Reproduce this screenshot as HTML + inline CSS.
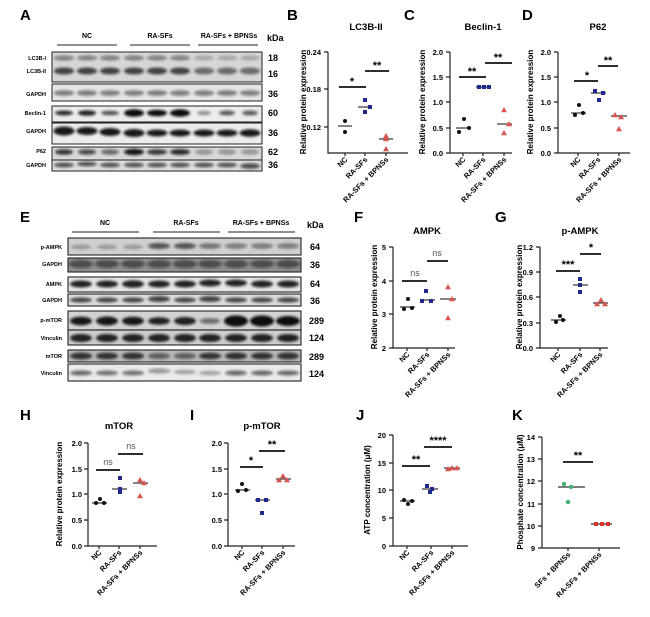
<!DOCTYPE html>
<html><head><meta charset="utf-8"><style>
body{margin:0;background:#fff}
svg{display:block;font-family:"Liberation Sans",sans-serif;font-weight:bold}
.L{font-size:15px}
.t{font-size:9.5px;text-anchor:middle}
.k{font-size:7.5px;text-anchor:end}
.y{font-size:8px;text-anchor:middle}
.x{font-size:7.5px;text-anchor:end}
.b{font-size:5.5px;text-anchor:end}
.h{font-size:7px;text-anchor:middle}
.kd{font-size:9px}
.ax{stroke:#222;stroke-width:1.2;fill:none}
.s{stroke:#111;stroke-width:1.8}
.m{stroke:#333;stroke-width:1.2}
.st{font-size:11px;text-anchor:middle}
.ns{font-size:9px;text-anchor:middle;fill:#555;font-weight:normal}
</style></head><body>
<svg width="650" height="617" viewBox="0 0 650 617">
<defs><filter id="bl"><feGaussianBlur stdDeviation="1.3"/></filter>
<polygon id="tri" points="0,-3 3,2.2 -3,2.2" fill="#d9534f"/></defs>

<text class="L" x="20" y="20">A</text>
<text class="L" x="287" y="20">B</text>
<text class="L" x="404" y="20">C</text>
<text class="L" x="522" y="20">D</text>
<text class="L" x="20" y="222">E</text>
<text class="L" x="354" y="222">F</text>
<text class="L" x="495" y="222">G</text>
<text class="L" x="20" y="420">H</text>
<text class="L" x="190" y="420">I</text>
<text class="L" x="356" y="420">J</text>
<text class="L" x="512" y="420">K</text>

<!-- ===== Blot A ===== -->
<text class="h" x="87" y="38">NC</text><text class="h" x="160" y="38">RA-SFs</text><text class="h" x="229" y="38">RA-SFs + BPNSs</text>
<g stroke="#222" stroke-width="1"><line x1="57" y1="45" x2="117" y2="45"/><line x1="130" y1="45" x2="190" y2="45"/><line x1="198" y1="45" x2="258" y2="45"/></g>
<g class="kd"><text x="267" y="41">kDa</text><text x="268" y="61">18</text><text x="268" y="77">16</text><text x="268" y="97">36</text><text x="268" y="116">60</text><text x="268" y="136">36</text><text x="268" y="155">62</text><text x="268" y="168">36</text></g>
<g class="b"><text x="46" y="60">LC3B-I</text><text x="46" y="73">LC3B-II</text><text x="46" y="96">GAPDH</text><text x="46" y="115">Beclin-1</text><text x="46" y="133">GAPDH</text><text x="46" y="153">P62</text><text x="46" y="167">GAPDH</text></g>
<g stroke="#222" stroke-width="1">
<rect x="52" y="52" width="210" height="30" fill="#d6d6d6"/>
<rect x="52" y="84" width="210" height="17" fill="#e4e4e4"/>
<rect x="52" y="106" width="210" height="16" fill="#ececec"/>
<rect x="52" y="123" width="210" height="21" fill="#ececec"/>
<rect x="52" y="147" width="210" height="13" fill="#d8d8d8"/>
<rect x="52" y="160" width="210" height="11" fill="#dedede"/>
</g>
<g filter="url(#bl)" fill="#111">
<g opacity=".45"><ellipse cx="64" cy="58" rx="10" ry="2.5"/><ellipse cx="87" cy="58" rx="10" ry="2.5"/><ellipse cx="110" cy="58" rx="10" ry="2.5"/><ellipse cx="134" cy="58" rx="10" ry="2.5"/><ellipse cx="157" cy="58" rx="10" ry="2.5"/><ellipse cx="180" cy="58" rx="10" ry="2.5"/></g>
<g opacity=".22"><ellipse cx="204" cy="58" rx="10" ry="2.5"/><ellipse cx="227" cy="58" rx="10" ry="2.5"/><ellipse cx="250" cy="58" rx="10" ry="2.5"/></g>
<g opacity=".75"><ellipse cx="64" cy="71" rx="10" ry="3.5"/><ellipse cx="87" cy="71" rx="10" ry="3.5"/><ellipse cx="110" cy="71" rx="10" ry="3.5"/><ellipse cx="134" cy="71" rx="10" ry="3.5"/><ellipse cx="157" cy="71" rx="10" ry="3.5"/><ellipse cx="180" cy="71" rx="10" ry="3.5"/></g>
<g opacity=".55"><ellipse cx="204" cy="71" rx="10" ry="3.5"/><ellipse cx="227" cy="71" rx="10" ry="3.5"/><ellipse cx="250" cy="71" rx="10" ry="3.5"/></g>
<g opacity=".5"><ellipse cx="64" cy="93" rx="10" ry="2.8"/><ellipse cx="87" cy="93" rx="10" ry="2.8"/><ellipse cx="110" cy="93" rx="10" ry="2.8"/><ellipse cx="134" cy="93" rx="10" ry="2.8"/><ellipse cx="157" cy="93" rx="10" ry="2.8"/><ellipse cx="180" cy="93" rx="10" ry="2.8"/><ellipse cx="204" cy="93" rx="10" ry="2.8"/><ellipse cx="227" cy="93" rx="10" ry="2.8"/><ellipse cx="250" cy="93" rx="10" ry="2.8"/></g>
<ellipse cx="64" cy="113" rx="9" ry="2.5" opacity=".85"/><ellipse cx="87" cy="113" rx="9" ry="2.8" opacity=".9"/><ellipse cx="110" cy="113" rx="9" ry="2.3" opacity=".7"/><ellipse cx="134" cy="113" rx="10" ry="3.8" opacity="1"/><ellipse cx="157" cy="113" rx="10" ry="3.3" opacity="1"/><ellipse cx="180" cy="113" rx="10" ry="3.8" opacity="1"/><ellipse cx="204" cy="113" rx="7" ry="2" opacity=".45"/><ellipse cx="227" cy="113" rx="8" ry="2.5" opacity=".65"/><ellipse cx="250" cy="113" rx="8" ry="2.5" opacity=".65"/>
<g opacity=".95"><ellipse cx="64" cy="131" rx="10.5" ry="4.5"/><ellipse cx="87" cy="131" rx="10.5" ry="4"/><ellipse cx="110" cy="132" rx="10.5" ry="4"/><ellipse cx="134" cy="133" rx="10.5" ry="4"/><ellipse cx="157" cy="133" rx="10.5" ry="3.5"/><ellipse cx="180" cy="133" rx="10.5" ry="3.5"/><ellipse cx="204" cy="133" rx="10.5" ry="3.5"/><ellipse cx="227" cy="133" rx="10.5" ry="3.5"/><ellipse cx="250" cy="133" rx="10.5" ry="3.8"/></g>
<ellipse cx="64" cy="152" rx="9" ry="2.8" opacity=".8"/><ellipse cx="87" cy="152" rx="9" ry="2.8" opacity=".7"/><ellipse cx="110" cy="152" rx="9" ry="2.8" opacity=".55"/><ellipse cx="134" cy="152" rx="10" ry="3.2" opacity=".95"/><ellipse cx="157" cy="152" rx="10" ry="2.8" opacity=".8"/><ellipse cx="180" cy="152" rx="10" ry="3" opacity=".85"/><ellipse cx="204" cy="152" rx="9" ry="2.8" opacity=".3"/><ellipse cx="227" cy="152" rx="9" ry="2.8" opacity=".3"/><ellipse cx="250" cy="152" rx="9" ry="2.8" opacity=".3"/>
<g opacity=".7"><ellipse cx="64" cy="165" rx="10" ry="2.3"/><ellipse cx="87" cy="164" rx="10" ry="2.3"/><ellipse cx="110" cy="165" rx="10" ry="2.3"/><ellipse cx="134" cy="165" rx="10" ry="2.3"/><ellipse cx="157" cy="165" rx="10" ry="2.3"/><ellipse cx="180" cy="165" rx="10" ry="2.3"/><ellipse cx="204" cy="165" rx="10" ry="2.3"/><ellipse cx="227" cy="165" rx="10" ry="2.3"/><ellipse cx="250" cy="166" rx="10" ry="2.8"/></g>
</g>

<!-- ===== Blot E ===== -->
<text class="h" x="105" y="225">NC</text><text class="h" x="186" y="225">RA-SFs</text><text class="h" x="261" y="225">RA-SFs + BPNSs</text>
<g stroke="#222" stroke-width="1"><line x1="72" y1="232" x2="139" y2="232"/><line x1="153" y1="232" x2="220" y2="232"/><line x1="228" y1="232" x2="295" y2="232"/></g>
<g class="kd"><text x="307" y="228">kDa</text><text x="310" y="250">64</text><text x="310" y="268">36</text><text x="310" y="287">64</text><text x="310" y="304">36</text><text x="309" y="324">289</text><text x="309" y="341">124</text><text x="309" y="360">289</text><text x="309" y="377">124</text></g>
<g class="b"><text x="62" y="249">p-AMPK</text><text x="62" y="266">GAPDH</text><text x="62" y="286">AMPK</text><text x="62" y="302">GAPDH</text><text x="62" y="322">p-mTOR</text><text x="62" y="340">Vinculin</text><text x="62" y="358">mTOR</text><text x="62" y="375">Vinculin</text></g>
<g stroke="#222" stroke-width="1.1">
<rect x="68" y="238" width="233" height="17" fill="#cfcfcf"/>
<rect x="68" y="258" width="233" height="14" fill="#8f8f8f"/>
<rect x="68" y="277" width="233" height="15" fill="#e6e6e6"/>
<rect x="68" y="294" width="233" height="12" fill="#dcdcdc"/>
<rect x="68" y="311" width="233" height="19" fill="#d2d2d2"/>
<rect x="68" y="330" width="233" height="15" fill="#cdcdcd"/>
<rect x="68" y="350" width="233" height="12" fill="#b8b8b8"/>
<rect x="68" y="364" width="233" height="17" fill="#eaeaea"/>
</g>
<g filter="url(#bl)" fill="#111">
<ellipse cx="81" cy="247" rx="10" ry="2.5" opacity=".25"/><ellipse cx="107" cy="247" rx="10" ry="2.5" opacity=".25"/><ellipse cx="133" cy="247" rx="10" ry="2.5" opacity=".25"/><ellipse cx="159" cy="246" rx="11" ry="3" opacity=".65"/><ellipse cx="185" cy="246" rx="11" ry="3" opacity=".65"/><ellipse cx="210" cy="246" rx="11" ry="2.8" opacity=".5"/><ellipse cx="236" cy="246" rx="11" ry="2.8" opacity=".45"/><ellipse cx="262" cy="246" rx="11" ry="2.8" opacity=".45"/><ellipse cx="288" cy="246" rx="11" ry="2.8" opacity=".45"/>
<g opacity=".55"><ellipse cx="81" cy="264" rx="12" ry="4"/><ellipse cx="107" cy="264" rx="12" ry="4"/><ellipse cx="133" cy="264" rx="12" ry="4"/><ellipse cx="159" cy="264" rx="12" ry="4"/><ellipse cx="185" cy="264" rx="12" ry="4"/><ellipse cx="210" cy="264" rx="12" ry="4"/><ellipse cx="236" cy="264" rx="12" ry="4"/><ellipse cx="262" cy="264" rx="12" ry="4"/><ellipse cx="288" cy="264" rx="12" ry="4"/></g>
<g opacity=".9"><ellipse cx="81" cy="284" rx="11" ry="3.5"/><ellipse cx="107" cy="284" rx="11" ry="3.5"/><ellipse cx="133" cy="284" rx="11" ry="3.8"/><ellipse cx="159" cy="284" rx="11" ry="3.5"/><ellipse cx="185" cy="284" rx="11" ry="3.5"/><ellipse cx="210" cy="283" rx="11" ry="3.5"/><ellipse cx="236" cy="283" rx="11" ry="3.5"/><ellipse cx="262" cy="284" rx="11" ry="3.5"/><ellipse cx="288" cy="284" rx="11" ry="3.5"/></g>
<g opacity=".75"><ellipse cx="81" cy="300" rx="11" ry="2.5"/><ellipse cx="107" cy="300" rx="11" ry="2.5"/><ellipse cx="133" cy="300" rx="11" ry="2.5"/><ellipse cx="159" cy="299" rx="11" ry="3"/><ellipse cx="185" cy="300" rx="11" ry="2.5"/><ellipse cx="210" cy="299" rx="11" ry="3"/><ellipse cx="236" cy="300" rx="11" ry="2.5"/><ellipse cx="262" cy="300" rx="11" ry="2.5"/><ellipse cx="288" cy="300" rx="11" ry="2.5"/></g>
<ellipse cx="81" cy="321" rx="11" ry="4.3" opacity=".95"/><ellipse cx="107" cy="321" rx="11" ry="4.5" opacity=".95"/><ellipse cx="133" cy="321" rx="11" ry="4.3" opacity=".95"/><ellipse cx="159" cy="321" rx="11" ry="3.8" opacity=".9"/><ellipse cx="185" cy="321" rx="11" ry="4" opacity=".9"/><ellipse cx="210" cy="321" rx="10" ry="2.8" opacity=".55"/><ellipse cx="236" cy="321" rx="12" ry="5.5" opacity="1"/><ellipse cx="262" cy="321" rx="12" ry="5.5" opacity="1"/><ellipse cx="288" cy="321" rx="12" ry="5" opacity="1"/>
<g opacity=".9"><ellipse cx="81" cy="338" rx="11" ry="4"/><ellipse cx="107" cy="338" rx="11" ry="4"/><ellipse cx="133" cy="338" rx="11" ry="4"/><ellipse cx="159" cy="338" rx="11" ry="4"/><ellipse cx="185" cy="338" rx="11" ry="4"/><ellipse cx="210" cy="338" rx="11" ry="4"/><ellipse cx="236" cy="338" rx="11" ry="4"/><ellipse cx="262" cy="338" rx="11" ry="4"/><ellipse cx="288" cy="338" rx="11" ry="4"/></g>
<g opacity=".8"><ellipse cx="81" cy="356" rx="11" ry="3.5"/><ellipse cx="107" cy="356" rx="11" ry="3.5"/><ellipse cx="133" cy="356" rx="11" ry="3.5"/><ellipse cx="159" cy="356" rx="11" ry="3" opacity=".7"/><ellipse cx="185" cy="356" rx="11" ry="3" opacity=".7"/><ellipse cx="210" cy="356" rx="11" ry="3.3"/><ellipse cx="236" cy="356" rx="11" ry="3.5"/><ellipse cx="262" cy="356" rx="11" ry="3.5"/><ellipse cx="288" cy="356" rx="11" ry="3.5"/></g>
<ellipse cx="81" cy="373" rx="11" ry="2.5" opacity=".6"/><ellipse cx="107" cy="373" rx="11" ry="2.5" opacity=".55"/><ellipse cx="133" cy="373" rx="11" ry="2.5" opacity=".55"/><ellipse cx="159" cy="371" rx="11" ry="2.5" opacity=".4"/><ellipse cx="185" cy="372" rx="11" ry="2.3" opacity=".3"/><ellipse cx="210" cy="373" rx="11" ry="2.3" opacity=".3"/><ellipse cx="236" cy="373" rx="11" ry="2.5" opacity=".6"/><ellipse cx="262" cy="373" rx="11" ry="2.5" opacity=".6"/><ellipse cx="288" cy="373" rx="11" ry="2.5" opacity=".6"/>
</g>

<!-- ===== Panel B ===== -->
<text class="t" x="366" y="30">LC3B-II</text>
<text class="y" transform="translate(306,102) rotate(-90)">Relative protein expression</text>
<path class="ax" d="M328 52V153H408M324 52H328M324 89H328M324 127H328M345 153v3M365 153v3M386 153v3"/>
<g class="k"><text x="321" y="55">0.24</text><text x="321" y="92">0.18</text><text x="321" y="130">0.12</text></g>
<g class="x"><text transform="translate(348,160) rotate(-45)">NC</text><text transform="translate(368,160) rotate(-45)">RA-SFs</text><text transform="translate(389,160) rotate(-45)">RA-SFs + BPNSs</text></g>
<line class="s" x1="339" y1="87" x2="366" y2="87"/><text class="st" x="352" y="85">*</text>
<line class="s" x1="365" y1="71" x2="389" y2="71"/><text class="st" x="377" y="69">**</text>
<line class="m" x1="338" y1="126" x2="352" y2="126"/><line class="m" x1="358" y1="107" x2="372" y2="107"/><line class="m" x1="379" y1="139" x2="393" y2="139"/>
<g fill="#111"><circle cx="345" cy="121" r="2"/><circle cx="345" cy="132" r="2"/></g>
<g fill="#1f2a8c"><rect x="363" y="98" width="4" height="4"/><rect x="363" y="110" width="4" height="4"/><rect x="368" y="105" width="4" height="4"/></g>
<use href="#tri" x="386" y="136"/><use href="#tri" x="386" y="149"/><use href="#tri" x="386" y="139"/>

<!-- ===== Panel C ===== -->
<text class="t" x="483" y="30">Beclin-1</text>
<text class="y" transform="translate(425,102) rotate(-90)">Relative protein expression</text>
<path class="ax" d="M450 52V153H512M446 52H450M446 77H450M446 102H450M446 128H450M446 153H450M463 153v3M483 153v3M504 153v3"/>
<g class="k"><text x="443" y="55">2.0</text><text x="443" y="80">1.5</text><text x="443" y="105">1.0</text><text x="443" y="131">0.5</text><text x="443" y="156">0.0</text></g>
<g class="x"><text transform="translate(466,160) rotate(-45)">NC</text><text transform="translate(486,160) rotate(-45)">RA-SFs</text><text transform="translate(507,160) rotate(-45)">RA-SFs + BPNSs</text></g>
<line class="s" x1="459" y1="77" x2="486" y2="77"/><text class="st" x="472" y="75">**</text>
<line class="s" x1="485" y1="63" x2="512" y2="63"/><text class="st" x="498" y="61">**</text>
<line class="m" x1="456" y1="128" x2="471" y2="128"/><line class="m" x1="476" y1="87" x2="491" y2="87"/><line class="m" x1="497" y1="124" x2="512" y2="124"/>
<g fill="#111"><circle cx="464" cy="119" r="2"/><circle cx="459" cy="132" r="2"/><circle cx="469" cy="128" r="2"/></g>
<g fill="#1f2a8c"><rect x="477" y="85" width="4" height="4"/><rect x="482" y="85" width="4" height="4"/><rect x="487" y="85" width="4" height="4"/></g>
<use href="#tri" x="504" y="110"/><use href="#tri" x="504" y="133"/><use href="#tri" x="509" y="124"/>

<!-- ===== Panel D ===== -->
<text class="t" x="598" y="30">P62</text>
<text class="y" transform="translate(533,102) rotate(-90)">Relative protein expression</text>
<path class="ax" d="M558 52V153H630M554 52H558M554 77H558M554 102H558M554 128H558M554 153H558M578 153v3M598 153v3M619 153v3"/>
<g class="k"><text x="551" y="55">2.0</text><text x="551" y="80">1.5</text><text x="551" y="105">1.0</text><text x="551" y="131">0.5</text><text x="551" y="156">0.0</text></g>
<g class="x"><text transform="translate(581,160) rotate(-45)">NC</text><text transform="translate(601,160) rotate(-45)">RA-SFs</text><text transform="translate(622,160) rotate(-45)">RA-SFs + BPNSs</text></g>
<line class="s" x1="574" y1="81" x2="598" y2="81"/><text class="st" x="587" y="79">*</text>
<line class="s" x1="598" y1="66" x2="618" y2="66"/><text class="st" x="608" y="64">**</text>
<line class="m" x1="571" y1="113" x2="586" y2="113"/><line class="m" x1="591" y1="93" x2="606" y2="93"/><line class="m" x1="611" y1="116" x2="627" y2="116"/>
<g fill="#111"><circle cx="579" cy="105" r="2"/><circle cx="575" cy="115" r="2"/><circle cx="583" cy="113" r="2"/></g>
<g fill="#1f2a8c"><rect x="593" y="89" width="4" height="4"/><rect x="601" y="91" width="4" height="4"/><rect x="597" y="98" width="4" height="4"/></g>
<use href="#tri" x="615" y="115"/><use href="#tri" x="621" y="117"/><use href="#tri" x="619" y="129"/>

<!-- ===== Panel F ===== -->
<text class="t" x="427" y="234">AMPK</text>
<text class="y" transform="translate(377,297) rotate(-90)">Relative protein expression</text>
<path class="ax" d="M393 247V348H455M389 247H393M389 281H393M389 314H393M389 348H393M407 348v3M427 348v3M448 348v3"/>
<g class="k"><text x="386" y="250">5</text><text x="386" y="284">4</text><text x="386" y="317">3</text><text x="386" y="351">2</text></g>
<g class="x"><text transform="translate(410,355) rotate(-45)">NC</text><text transform="translate(430,355) rotate(-45)">RA-SFs</text><text transform="translate(451,355) rotate(-45)">RA-SFs + BPNSs</text></g>
<line class="s" x1="402" y1="281" x2="427" y2="281"/><text class="ns" x="415" y="276">ns</text>
<line class="s" x1="427" y1="261" x2="448" y2="261"/><text class="ns" x="437" y="256">ns</text>
<line class="m" x1="400" y1="307" x2="415" y2="307"/><line class="m" x1="420" y1="300" x2="435" y2="300"/><line class="m" x1="440" y1="299" x2="456" y2="299"/>
<g fill="#111"><circle cx="408" cy="299" r="2"/><circle cx="404" cy="309" r="2"/><circle cx="412" cy="308" r="2"/></g>
<g fill="#1f2a8c"><rect x="424" y="289" width="4" height="4"/><rect x="420" y="299" width="4" height="4"/><rect x="429" y="299" width="4" height="4"/></g>
<use href="#tri" x="448" y="287"/><use href="#tri" x="448" y="318"/><use href="#tri" x="452" y="299"/>

<!-- ===== Panel G ===== -->
<text class="t" x="580" y="234">p-AMPK</text>
<text class="y" transform="translate(522,297) rotate(-90)">Relative protein expression</text>
<path class="ax" d="M540 247V348H608M536 247H540M536 272H540M536 297H540M536 323H540M536 348H540M558 348v3M580 348v3M600 348v3"/>
<g class="k"><text x="533" y="250">1.2</text><text x="533" y="275">0.9</text><text x="533" y="300">0.6</text><text x="533" y="326">0.3</text><text x="533" y="351">0.0</text></g>
<g class="x"><text transform="translate(561,355) rotate(-45)">NC</text><text transform="translate(583,355) rotate(-45)">RA-SFs</text><text transform="translate(603,355) rotate(-45)">RA-SFs + BPNSs</text></g>
<line class="s" x1="556" y1="271" x2="580" y2="271"/><text class="st" x="568" y="268">***</text>
<line class="s" x1="580" y1="254" x2="601" y2="254"/><text class="st" x="591" y="251">*</text>
<line class="m" x1="551" y1="320" x2="566" y2="320"/><line class="m" x1="573" y1="285" x2="588" y2="285"/><line class="m" x1="593" y1="303" x2="608" y2="303"/>
<g fill="#111"><circle cx="560" cy="316" r="2"/><circle cx="556" cy="322" r="2"/><circle cx="563" cy="320" r="2"/></g>
<g fill="#1f2a8c"><rect x="578" y="277" width="4" height="4"/><rect x="578" y="290" width="4" height="4"/><rect x="578" y="283" width="4" height="4"/></g>
<use href="#tri" x="601" y="300"/><use href="#tri" x="597" y="304"/><use href="#tri" x="605" y="304"/>

<!-- ===== Panel H ===== -->
<text class="t" x="119" y="429">mTOR</text>
<text class="y" transform="translate(62,494) rotate(-90)">Relative protein expression</text>
<path class="ax" d="M88 443V546H157M84 443H88M84 469H88M84 494H88M84 520H88M84 546H88M99 546v3M119 546v3M140 546v3"/>
<g class="k"><text x="82" y="446">2.0</text><text x="82" y="472">1.5</text><text x="82" y="497">1.0</text><text x="82" y="523">0.5</text><text x="82" y="549">0.0</text></g>
<g class="x"><text transform="translate(102,553) rotate(-45)">NC</text><text transform="translate(122,553) rotate(-45)">RA-SFs</text><text transform="translate(143,553) rotate(-45)">RA-SFs + BPNSs</text></g>
<line class="s" x1="96" y1="470" x2="120" y2="470"/><text class="ns" x="108" y="465">ns</text>
<line class="s" x1="118" y1="454" x2="143" y2="454"/><text class="ns" x="131" y="449">ns</text>
<line class="m" x1="92" y1="503" x2="107" y2="503"/><line class="m" x1="112" y1="489" x2="127" y2="489"/><line class="m" x1="133" y1="483" x2="148" y2="483"/>
<g fill="#111"><circle cx="100" cy="499" r="2"/><circle cx="96" cy="503" r="2"/><circle cx="104" cy="503" r="2"/></g>
<g fill="#1f2a8c"><rect x="118" y="476" width="4" height="4"/><rect x="118" y="490" width="4" height="4"/><rect x="118" y="487" width="4" height="4"/></g>
<use href="#tri" x="140" y="480"/><use href="#tri" x="140" y="496"/><use href="#tri" x="144" y="483"/>

<!-- ===== Panel I ===== -->
<text class="t" x="262" y="429">p-mTOR</text>
<path class="ax" d="M228 443V546H295M224 443H228M224 469H228M224 494H228M224 520H228M224 546H228M242 546v3M262 546v3M283 546v3"/>
<g class="k"><text x="222" y="446">2.0</text><text x="222" y="472">1.5</text><text x="222" y="497">1.0</text><text x="222" y="523">0.5</text><text x="222" y="549">0.0</text></g>
<g class="x"><text transform="translate(245,553) rotate(-45)">NC</text><text transform="translate(265,553) rotate(-45)">RA-SFs</text><text transform="translate(286,553) rotate(-45)">RA-SFs + BPNSs</text></g>
<line class="s" x1="240" y1="467" x2="263" y2="467"/><text class="st" x="251" y="464">*</text>
<line class="s" x1="259" y1="451" x2="285" y2="451"/><text class="st" x="272" y="448">**</text>
<line class="m" x1="235" y1="490" x2="250" y2="490"/><line class="m" x1="255" y1="500" x2="270" y2="500"/><line class="m" x1="276" y1="479" x2="291" y2="479"/>
<g fill="#111"><circle cx="242" cy="484" r="2"/><circle cx="238" cy="491" r="2"/><circle cx="246" cy="490" r="2"/></g>
<g fill="#1f2a8c"><rect x="256" y="498" width="4" height="4"/><rect x="264" y="498" width="4" height="4"/><rect x="260" y="511" width="4" height="4"/></g>
<use href="#tri" x="283" y="476"/><use href="#tri" x="279" y="480"/><use href="#tri" x="287" y="480"/>

<!-- ===== Panel J ===== -->
<text class="y" transform="translate(370,490) rotate(-90)">ATP concentration (μM)</text>
<path class="ax" d="M393 435V546H468M389 435H393M389 463H393M389 490H393M389 518H393M389 546H393M407 546v3M431 546v3M452 546v3"/>
<g class="k"><text x="386" y="438">20</text><text x="386" y="466">15</text><text x="386" y="493">10</text><text x="386" y="521">5</text><text x="386" y="549">0</text></g>
<g class="x"><text transform="translate(410,553) rotate(-45)">NC</text><text transform="translate(434,553) rotate(-45)">RA-SFs</text><text transform="translate(455,553) rotate(-45)">RA-SFs + BPNSs</text></g>
<line class="s" x1="402" y1="466" x2="430" y2="466"/><text class="st" x="416" y="463">**</text>
<line class="s" x1="424" y1="447" x2="452" y2="447"/><text class="st" x="438" y="444">****</text>
<line class="m" x1="400" y1="501" x2="415" y2="501"/><line class="m" x1="422" y1="489" x2="438" y2="489"/><line class="m" x1="444" y1="468" x2="460" y2="468"/>
<g fill="#111"><circle cx="404" cy="500" r="2"/><circle cx="408" cy="504" r="2"/><circle cx="412" cy="501" r="2"/></g>
<g fill="#1f2a8c"><rect x="425" y="484" width="4" height="4"/><rect x="430" y="487" width="4" height="4"/><rect x="428" y="490" width="4" height="4"/></g>
<g fill="#d9534f"><use href="#tri" x="448" y="469"/><use href="#tri" x="452" y="468"/><use href="#tri" x="457" y="468"/></g>

<!-- ===== Panel K ===== -->
<text class="y" transform="translate(523,492) rotate(-90)">Phosphate concentration (μM)</text>
<path class="ax" d="M542 437V548H620M538 437H542M538 459H542M538 481H542M538 504H542M538 526H542M538 548H542M568 548v3M599 548v3"/>
<g class="k"><text x="535" y="440">14</text><text x="535" y="462">13</text><text x="535" y="484">12</text><text x="535" y="507">11</text><text x="535" y="529">10</text><text x="535" y="551">9</text></g>
<g class="x"><text transform="translate(571,555) rotate(-45)">SFs + BPNSs</text><text transform="translate(602,555) rotate(-45)">RA-SFs + BPNSs</text></g>
<line class="s" x1="563" y1="462" x2="593" y2="462"/><text class="st" x="578" y="459">**</text>
<line class="m" x1="558" y1="487" x2="585" y2="487"/><line class="m" x1="591" y1="524" x2="612" y2="524"/>
<g fill="#3cb371"><circle cx="564" cy="484" r="2.2"/><circle cx="571" cy="487" r="2.2"/><circle cx="568" cy="502" r="2.2"/></g>
<g fill="#d9342b"><rect x="594" y="522" width="4" height="4"/><rect x="600" y="522" width="4" height="4"/><rect x="606" y="522" width="4" height="4"/></g>
</svg>
</body></html>
